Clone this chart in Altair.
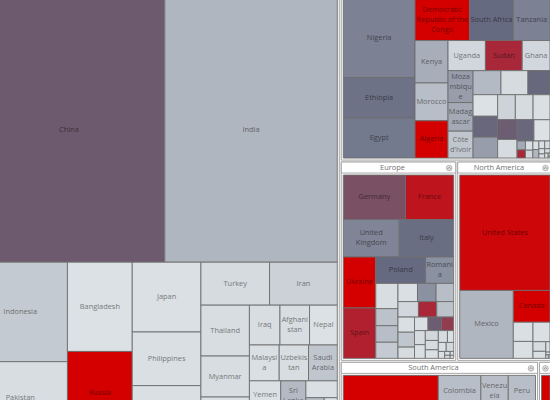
import altair as alt
import pandas as pd

# ---------------- data: population (millions) and colour metric per country ----------------
continents = ["Asia", "Africa", "Europe", "North America", "South America", "Oceania"]

asia_countries = ["China", "India", "Indonesia", "Pakistan", "Bangladesh", "Russia", "Japan",
                  "Philippines", "Vietnam", "Turkey", "Iran", "Thailand", "Myanmar", "South Korea",
                  "Iraq", "Afghanistan", "Nepal", "Malaysia", "Uzbekistan", "Saudi Arabia", "Yemen",
                  "Syria", "Sri Lanka", "Kazakhstan", "Cambodia", "Azerbaijan", "Laos", "Jordan",
                  "Georgia", "Armenia", "Mongolia"]
asia_population = [1373, 1235, 255, 188, 157, 147, 130, 100, 92, 80, 79, 67, 54, 50, 33, 32, 30,
                   29, 28.5, 28, 24.5, 21.5, 20.7, 16.3, 14.4, 9, 6.4, 6.2, 4.4, 3.1, 2.7]
asia_tone = [4.0, 1.1, 0.6, 0.15, 0.05, 6, 0.08, 0.1, 0.1, 0.2, 0.45, 0.15, 0.15, 0.1, 0.15, 0.15,
             0.05, 0.1, 0.15, 0.7, 0.08, 0.12, 1.0, 0.2, 0.1, 0.9, 0.1, 0.4, 0.2, 0.1, 0.1]

africa_countries = ["Nigeria", "Ethiopia", "Egypt", "Democratic Republic of the Congo", "South Africa",
                    "Tanzania", "Kenya", "Morocco", "Algeria", "Uganda", "Sudan", "Ghana", "Mozambique",
                    "Madagascar", "Côte d'Ivoire", "Cameroon", "Angola", "Niger", "Burkina Faso", "Malawi",
                    "Mali", "Zimbabwe", "Zambia", "Senegal", "Chad", "Rwanda", "Tunisia", "Guinea",
                    "Namibia", "Lesotho", "Botswana", "Gambia", "Guinea-Bissau", "Gabon", "Mauritius",
                    "Swaziland", "Djibouti", "Equatorial Guinea", "Comoros", "Cape Verde",
                    "São Tomé and Príncipe", "Seychelles"]
africa_population = [166, 85, 84, 67, 54, 45, 41, 36.5, 36, 33, 32.5, 24.5, 23.4, 21, 19.7,
                     19.6, 19, 15.5, 15.5, 15, 15, 13, 13, 12.4, 11.2, 10.6, 10.5, 10,
                     2.2, 2, 2, 1.7, 1.5, 1.5, 1.3, 1.2, 0.9, 0.7, 0.7, 0.5, 0.17, 0.09]
africa_tone = [2.4, 2.8, 2.6, 6, 3.0, 2.4, 1.3, 0.9, 6, 0.3, 5.0, 0.3, 1.7, 1.4, 0.7,
               1.0, 0.2, 3.1, 0.05, 3.2, 1.7, 0.4, 0.2, 0.1, 3.8, 0.2, 3.2, 0.05,
               1.4, 5.0, 0.1, 0.3, 0.1, 1.1, 0.1, 0.2, 0.1, 0.1, 0.2, 0.1, 0.1, 0.1]

europe_countries = ["Germany", "France", "United Kingdom", "Italy", "Ukraine", "Spain", "Poland",
                    "Romania", "Netherlands", "Greece", "Belgium", "Portugal", "Czech Republic",
                    "Hungary", "Belarus", "Sweden", "Austria", "Switzerland", "Bulgaria", "Serbia",
                    "Denmark", "Slovakia", "Finland", "Norway", "Ireland", "Croatia",
                    "Bosnia and Herzegovina", "Moldova", "Lithuania", "Albania", "Latvia", "Macedonia",
                    "Slovenia", "Estonia", "Montenegro", "Luxembourg", "Malta", "Iceland"]
europe_population = [82, 63.5, 62, 60.5, 49, 48.5, 39, 22, 16.6, 11.2, 10.9, 10.6, 10.5, 10, 9.5,
                     9.4, 8.4, 7.8, 7.4, 7.3, 5.5, 5.4, 5.4, 4.9, 4.5, 4.4, 3.8, 3.6, 3.3, 3.2, 2.2,
                     2.1, 2.0, 1.3, 0.63, 0.5, 0.41, 0.32]
europe_tone = [4.2, 5.5, 2.3, 2.9, 6, 5.2, 3.0, 2.0, 0.15, 0.8, 0.9, 0.6, 0.1, 2.0, 0.9, 0.3, 5.0,
               0.8, 0.1, 0.7, 0.2, 0.1, 3.8, 4.6, 0.2, 0.1, 0.3, 0.2, 0.1, 0.2, 0.1, 0.1, 0.3, 0.1,
               0.1, 0.2, 0.1, 0.1]

north_america_countries = ["United States", "Mexico", "Canada", "Cuba", "Haiti", "Dominican Republic",
                           "Puerto Rico", "Jamaica", "Trinidad and Tobago", "Bahamas", "Barbados",
                           "Saint Lucia"]
north_america_population = [312, 109, 35, 11.3, 10, 9.9, 3.7, 2.7, 1.3, 0.35, 0.27, 0.17]
north_america_tone = [5.85, 1.1, 6, 0.1, 0.1, 0.1, 0.2, 0.1, 0.1, 0.1, 0.1, 0.1]

south_america_countries = ["Brazil", "Colombia", "Argentina", "Venezuela", "Peru", "Chile", "Ecuador",
                           "Bolivia", "Paraguay", "Uruguay", "Guyana", "Suriname"]
south_america_population = [193, 46, 40.4, 29.3, 29.1, 17.1, 14.5, 10, 6.4, 3.4, 0.75, 0.52]
south_america_tone = [6, 0.9, 1.0, 0.9, 0.9, 0.8, 0.4, 0.3, 0.2, 0.2, 0.1, 0.1]

oceania_countries = ["Australia", "New Zealand", "Fiji", "Solomon Islands", "Vanuatu", "Samoa"]
oceania_population = [22.3, 4.4, 0.86, 0.54, 0.24, 0.18]
oceania_tone = [6, 0.5, 0.2, 0.1, 0.1, 0.1]

members = {
    "Asia": (asia_countries, asia_population, asia_tone),
    "Africa": (africa_countries, africa_population, africa_tone),
    "Europe": (europe_countries, europe_population, europe_tone),
    "North America": (north_america_countries, north_america_population, north_america_tone),
    "South America": (south_america_countries, south_america_population, south_america_tone),
    "Oceania": (oceania_countries, oceania_population, oceania_tone),
}

# ---------------- layout settings (the view is zoomed into a larger treemap) ----------------
VIEW_W, VIEW_H = 550, 400
EXTENT = (-30.0, -15.5, 553.0, 438.0)
GAP, HEADER, PAD = 1.0, 11.0, 2.0
FONT, FS, LH = "Open Sans", 7.4, 10.0
ROW_HINTS = {"root": [1, 1, 2], "Asia": [2, 2, 2, 3, 2, 3], "Europe": [2, 2, 2, 2]}

TONE_STOPS = [0, 1, 2, 3, 4, 5, 6]
TONE_COLORS = ["#dde3e6", "#b4bac3", "#8a91a0", "#666a80", "#6e5a6e", "#a8283a", "#d40000"]


def worst(row, side):
    s = sum(row)
    return max(max(side * side * r / (s * s), (s * s) / (side * side * r)) for r in row)


def squarify(values, x0, y0, x1, y1, hints=()):
    order = sorted(range(len(values)), key=lambda i: -values[i])
    total = sum(values)
    scale = (x1 - x0) * (y1 - y0) / total
    areas = [values[i] * scale for i in order]
    rects = {}
    k, hi = 0, 0
    x, y = x0, y0
    while k < len(order):
        w, h = x1 - x, y1 - y
        side = max(min(w, h), 1e-9)
        if hi < len(hints):
            n = hints[hi]
            hi += 1
        else:
            n = 1
            while k + n < len(order) and worst(areas[k:k + n + 1], side) <= worst(areas[k:k + n], side):
                n += 1
        n = min(n, len(order) - k)
        row = areas[k:k + n]
        s = sum(row)
        if w >= h:
            cw = s / h if h > 0 else 0
            yy = y
            for j, a in enumerate(row):
                rh = a / cw if cw > 0 else 0
                rects[order[k + j]] = (x, yy, x + cw, yy + rh)
                yy += rh
            x += cw
        else:
            rh = s / w if w > 0 else 0
            xx = x
            for j, a in enumerate(row):
                rw = a / rh if rh > 0 else 0
                rects[order[k + j]] = (xx, y, xx + rw, y + rh)
                xx += rw
            y += rh
        k += n
    return [rects[i] for i in range(len(values))]


CW = {" ": .26, "a": .556, "b": .613, "c": .476, "d": .613, "e": .561, "f": .339, "g": .548,
      "h": .614, "i": .253, "j": .253, "k": .525, "l": .253, "m": .93, "n": .614, "o": .604,
      "p": .613, "q": .613, "r": .408, "s": .477, "t": .353, "u": .614, "v": .501, "w": .778,
      "x": .524, "y": .502, "z": .446, "A": .633, "B": .648, "C": .631, "D": .729, "E": .545,
      "F": .517, "G": .728, "H": .738, "I": .279, "J": .267, "K": .614, "L": .534, "M": .903,
      "N": .754, "O": .779, "P": .602, "Q": .779, "R": .618, "S": .539, "T": .543, "U": .725,
      "V": .59, "W": .909, "X": .583, "Y": .559, "Z": .555, "'": .217, "-": .322, "ô": .604,
      "é": .561, "ã": .556, "í": .253}


def text_w(s):
    return sum(CW.get(c, 0.56) for c in s) * FS


def wrap_label(name, w, h):
    if w < 22 or h < 25.5:
        return []
    avail = w - 0.5
    lines, cur = [], ""
    for word in name.split(" "):
        cand = word if not cur else cur + " " + word
        if text_w(cand) <= avail:
            cur = cand
            continue
        if cur:
            lines.append(cur)
            cur = ""
        while text_w(word) > avail and len(word) > 1:
            cut = 1
            while cut < len(word) and text_w(word[:cut + 1]) <= avail:
                cut += 1
            lines.append(word[:cut])
            word = word[cut:]
        cur = word
    if cur:
        lines.append(cur)
    max_lines = int((h + 1) // LH)
    return lines[:max_lines]


# ---------------- compute the treemap ----------------
totals = [sum(members[c][1]) for c in continents]
group_rects = squarify(totals, *EXTENT, hints=ROW_HINTS["root"])

group_rows, leaf_rows = [], []
for cont, (gx0, gy0, gx1, gy1) in zip(continents, group_rects):
    gx0, gy0, gx1, gy1 = gx0 + GAP, gy0 + GAP, gx1 - GAP, gy1 - GAP
    hy = gy0 + HEADER / 2 + 0.5
    show = (text_w(cont) + 18 < (gx1 - gx0)) and (0 < hy < VIEW_H)
    group_rows.append({
        "name": cont, "x": gx0, "x2": gx1, "y": gy0, "y2": gy1, "hy2": gy0 + HEADER,
        "hx": (gx0 + gx1 - 12) / 2, "hy": hy,
        "bx": gx1 - 6.5, "by": hy, "show": show,
    })
    names, pops, tones = members[cont]
    cx0, cy0, cx1, cy1 = gx0 + PAD, gy0 + HEADER + PAD, gx1 - PAD, gy1 - PAD
    rects = squarify(pops, cx0, cy0, cx1, cy1, hints=ROW_HINTS.get(cont, ()))
    for nm, tn, (x0, y0, x1, y1) in zip(names, tones, rects):
        lines = wrap_label(nm, x1 - x0, y1 - y0)
        leaf_rows.append({
            "name": nm, "continent": cont, "tone": tn, "x": x0, "x2": x1, "y": y0, "y2": y1,
            "lx": (x0 + x1) / 2,
            "ly": (y0 + y1) / 2 - (len(lines) - 1) * LH / 2 if lines else (y0 + y1) / 2,
            "label": "\n".join(lines),
        })

groups = pd.DataFrame(group_rows)
leaves = pd.DataFrame(leaf_rows)

xs = alt.Scale(domain=[0, VIEW_W], nice=False, zero=False)
ys = alt.Scale(domain=[0, VIEW_H], nice=False, zero=False, reverse=True)
X = lambda f: alt.X(f"{f}:Q", scale=xs, axis=None)
Y = lambda f: alt.Y(f"{f}:Q", scale=ys, axis=None)

g = alt.Chart(groups)
group_box = g.mark_rect(fill="white", stroke="#a8a8a8", strokeWidth=1, clip=True).encode(
    x=X("x"), x2="x2:Q", y=Y("y"), y2="y2:Q")
header_box = g.mark_rect(fill="white", stroke="#a8a8a8", strokeWidth=1, clip=True).encode(
    x=X("x"), x2="x2:Q", y=Y("y"), y2="hy2:Q")
header_text = g.transform_filter("datum.show").mark_text(
    font=FONT, fontSize=FS, color="#707070", baseline="middle", align="center", clip=True
).encode(x=X("hx"), y=Y("hy"), text="name:N")
button = g.mark_point(shape="circle", filled=True, fill="#dedede", stroke="#a0a0a0",
                      strokeWidth=0.7, size=32, opacity=1, clip=True).encode(x=X("bx"), y=Y("by"))
chevron = g.mark_point(shape="M-1,0.5L0,-0.5L1,0.5", filled=False, stroke="#808080",
                       strokeWidth=0.8, size=10, opacity=1, clip=True).encode(x=X("bx"), y=Y("by"))

lf = alt.Chart(leaves)
leaf_box = lf.mark_rect(stroke="#6e6e6e", strokeWidth=0.9, clip=True).encode(
    x=X("x"), x2="x2:Q", y=Y("y"), y2="y2:Q",
    fill=alt.Fill("tone:Q", scale=alt.Scale(domain=TONE_STOPS, range=TONE_COLORS, interpolate="rgb"),
                  legend=None))
leaf_text = lf.transform_filter("datum.label != ''").mark_text(
    font=FONT, fontSize=FS, lineBreak="\n", lineHeight=LH, color="#000000", opacity=0.48,
    baseline="middle", align="center", clip=True
).encode(x=X("lx"), y=Y("ly"), text="label:N")

chart = alt.layer(group_box, header_box, leaf_box, header_text, button, chevron, leaf_text).properties(
    width=VIEW_W, height=VIEW_H, padding=0, autosize=alt.AutoSizeParams(type="none"),
    background="#f4f4f4"
).configure_view(stroke=None)

chart.save("out.html", embed_options={"renderer": "svg", "actions": False})
